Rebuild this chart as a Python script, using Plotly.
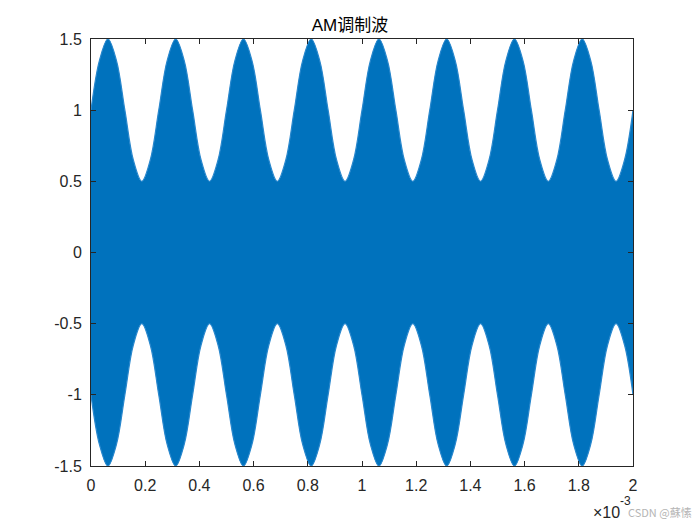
import plotly.graph_objects as go

# time axis in units of 1e-3 s
t_ms = [0.0, 0.03125, 0.0625, 0.09375, 0.125, 0.15625, 0.1875, 0.21875,
        0.25, 0.28125, 0.3125, 0.34375, 0.375, 0.40625, 0.4375, 0.46875,
        0.5, 0.53125, 0.5625, 0.59375, 0.625, 0.65625, 0.6875, 0.71875,
        0.75, 0.78125, 0.8125, 0.84375, 0.875, 0.90625, 0.9375, 0.96875,
        1.0, 1.03125, 1.0625, 1.09375, 1.125, 1.15625, 1.1875, 1.21875,
        1.25, 1.28125, 1.3125, 1.34375, 1.375, 1.40625, 1.4375, 1.46875,
        1.5, 1.53125, 1.5625, 1.59375, 1.625, 1.65625, 1.6875, 1.71875,
        1.75, 1.78125, 1.8125, 1.84375, 1.875, 1.90625, 1.9375, 1.96875, 2.0]

# upper envelope of the AM wave
env_upper = [1.00, 1.35, 1.50, 1.35, 1.00, 0.65, 0.50, 0.65,
             1.00, 1.35, 1.50, 1.35, 1.00, 0.65, 0.50, 0.65,
             1.00, 1.35, 1.50, 1.35, 1.00, 0.65, 0.50, 0.65,
             1.00, 1.35, 1.50, 1.35, 1.00, 0.65, 0.50, 0.65,
             1.00, 1.35, 1.50, 1.35, 1.00, 0.65, 0.50, 0.65,
             1.00, 1.35, 1.50, 1.35, 1.00, 0.65, 0.50, 0.65,
             1.00, 1.35, 1.50, 1.35, 1.00, 0.65, 0.50, 0.65,
             1.00, 1.35, 1.50, 1.35, 1.00, 0.65, 0.50, 0.65, 1.00]
env_lower = [-v for v in env_upper]

x_ticks = [0, 0.2, 0.4, 0.6, 0.8, 1.0, 1.2, 1.4, 1.6, 1.8, 2.0]
x_tick_text = ["0", "0.2", "0.4", "0.6", "0.8", "1", "1.2", "1.4", "1.6", "1.8", "2"]
y_ticks = [-1.5, -1, -0.5, 0, 0.5, 1, 1.5]
y_tick_text = ["-1.5", "-1", "-0.5", "0", "0.5", "1", "1.5"]

blue = "rgb(0,114,189)"
font_family = "Liberation Sans, Arial, Noto Sans CJK SC"

fig = go.Figure()
fig.add_trace(go.Scatter(x=t_ms, y=env_lower, mode="lines",
                         line=dict(color="rgb(40,135,205)", width=1.2, shape="spline"),
                         showlegend=False, hoverinfo="skip"))
fig.add_trace(go.Scatter(x=t_ms, y=env_upper, mode="lines", fill="tonexty",
                         fillcolor=blue,
                         line=dict(color="rgb(40,135,205)", width=1.2, shape="spline"),
                         showlegend=False, hoverinfo="skip"))

axis_common = dict(showline=True, linecolor="#262626", linewidth=1, mirror="ticks",
                   ticks="inside", ticklen=5, tickcolor="#262626", showgrid=False,
                   zeroline=False, tickfont=dict(family=font_family, size=16, color="#262626"))

fig.update_layout(
    width=700, height=525,
    margin=dict(l=91, r=67, t=39, b=59),
    paper_bgcolor="white", plot_bgcolor="white",
    title=dict(text="AM调制波", x=0.5, xanchor="center", y=1 - 24.7 / 525, yanchor="middle",
               font=dict(family=font_family, size=17, color="#000000")),
    xaxis=dict(range=[0, 2], tickvals=x_ticks, ticktext=x_tick_text,
               ticklabelstandoff=5, **axis_common),
    yaxis=dict(range=[-1.5, 1.5], tickvals=y_ticks, ticktext=y_tick_text,
               ticklabelstandoff=5, **axis_common),
    annotations=[
        dict(text="×10", xref="paper", yref="paper", x=0.9225, y=-0.109,
             xanchor="left", yanchor="middle", showarrow=False,
             font=dict(family=font_family, size=16, color="#262626")),
        dict(text="-3", xref="paper", yref="paper", x=0.972, y=-0.082,
             xanchor="left", yanchor="middle", showarrow=False,
             font=dict(family=font_family, size=12, color="#262626")),
        dict(text="CSDN @蘇愫", xref="paper", yref="paper", x=0.988, y=-0.108,
             xanchor="left", yanchor="middle", showarrow=False,
             font=dict(family="Noto Sans CJK SC", size=11, color="#b5b5b5")),
    ],
)

fig.write_html("out.html", config={"displayModeBar": False},
               post_script="document.body.style.margin='0';document.body.style.overflow='hidden';")
